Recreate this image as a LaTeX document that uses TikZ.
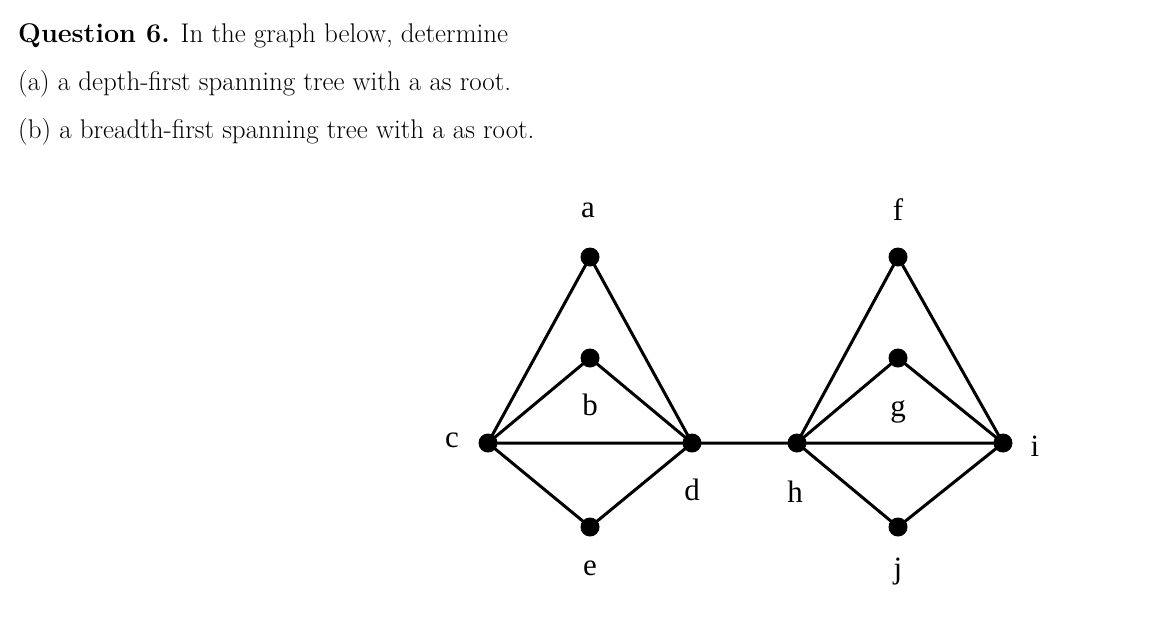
\documentclass[tikz,border=0pt]{standalone}
\usepackage{fontspec}
\newfontfamily\tnr{Liberation Serif}
\begin{document}
\begin{tikzpicture}[x=1pt,y=-1pt,
  v/.style={circle,fill=black,inner sep=0pt,minimum size=19pt},
  e/.style={line width=3pt},
  lab/.style={font=\tnr\fontsize{31}{31}\selectfont,inner sep=0pt},
  q/.style={anchor=west,font=\fontsize{27}{32}\selectfont,inner sep=0pt}]
\useasboundingbox (0,0) rectangle (1154,630);
\node[q] (t1) at (18,36) {\textbf{Question 6.} In the graph below, determine};
\node[q] (t2) at (18,84) {(a) a depth-first spanning tree with a as root.};
\node[q] (t3) at (18,132) {(b) a breadth-first spanning tree with a as root.};
\node[v] (a) at (590,257) {};
\node[v] (b) at (590,358) {};
\node[v] (c) at (488,443) {};
\node[v] (d) at (692,443) {};
\node[v] (e) at (590,527) {};
\node[v] (f) at (898,257) {};
\node[v] (g) at (898,358) {};
\node[v] (h) at (797,443) {};
\node[v] (i) at (1003,443) {};
\node[v] (j) at (898,527) {};
\draw[e] (a.center)--(c.center) (a.center)--(d.center) (b.center)--(c.center) (b.center)--(d.center)
 (c.center)--(d.center) (c.center)--(e.center) (e.center)--(d.center) (d.center)--(h.center)
 (h.center)--(f.center) (f.center)--(i.center) (h.center)--(g.center) (g.center)--(i.center)
 (h.center)--(i.center) (h.center)--(j.center) (j.center)--(i.center);
\node[lab] (la) at (588,210) {a};
\node[lab] (lb) at (590,405) {b};
\node[lab] (lc) at (452,440) {c};
\node[lab] (ld) at (692,490) {d};
\node[lab] (le) at (590,568) {e};
\node[lab] (lf) at (898,210) {f};
\node[lab] (lg) at (898,412) {g};
\node[lab] (lh) at (795,492) {h};
\node[lab] (li) at (1035,446) {i};
\node[lab] (lj) at (898,572) {j};
\end{tikzpicture}
\end{document}
